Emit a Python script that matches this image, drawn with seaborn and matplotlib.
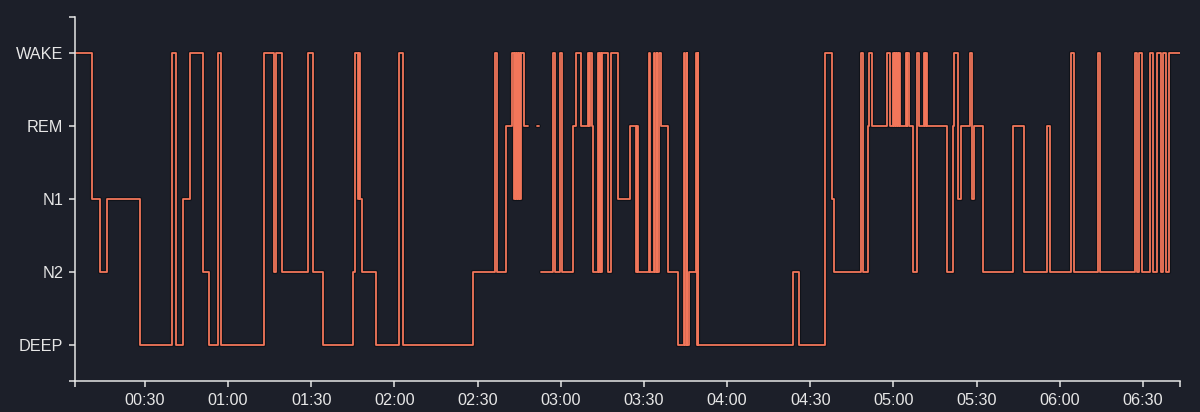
import numpy as np
import pandas as pd
import matplotlib
matplotlib.use("Agg")
import matplotlib.pyplot as plt
import matplotlib.patheffects as pe
import seaborn as sns

# ---------------- data ----------------
stage_order = ["DEEP", "N2", "N1", "REM", "WAKE"]

# stage change times (minutes after midnight); None marks missing data
change_min = [
    4.8, 10.8, 13.8, 16.2, 28.2, 39.9, 41.4, 43.8, 46.2, 51.0, 53.0, 56.3, 57.3,
    72.9, 76.5, 77.4, 79.3, 88.9, 90.7, 94.2, 105.2, 105.8, 107.0, 107.4, 107.7,
    108.2, 113.2, 121.7, 123.0, 148.2, 156.3, 157.1, 160.1, 162.5, 163.2, 163.6,
    164.0, 164.3, 164.7, 165.0, 165.3, 165.6, 166.7, 168.3, 171.4, 172.2, 173.0,
    177.1, 177.9, 179.7, 180.3, 184.5, 185.7, 187.5, 189.9, 190.3, 190.7, 191.2,
    191.7, 193.3, 193.7, 194.1, 194.5, 195.0, 196.9, 198.1, 200.7, 205.0,
    207.0, 207.5, 208.0, 211.8, 212.2, 213.7, 214.2,
    214.6, 214.9, 215.4, 216.1, 218.6, 222.4, 224.6, 225.0, 225.4, 225.6, 226.2,
    228.7, 229.1, 229.4, 229.7, 263.7, 266.0, 275.3, 277.7, 278.7, 288.3, 289.1,
    290.9, 291.3, 292.2, 297.6, 298.8, 300.0, 300.4, 300.7, 301.0, 301.4, 301.7,
    302.0, 302.4, 304.4, 304.8, 305.1, 305.6, 307.2, 308.4, 309.3, 311.1, 311.5,
    311.8, 312.2, 319.4, 321.4, 321.9, 323.4, 324.3, 327.6, 328.5, 329.2, 332.2,
    343.2, 347.1, 355.3, 356.5, 364.1, 365.1, 373.7, 374.5, 387.1, 388.0, 388.7,
    389.6, 392.6, 393.5, 395.0, 396.4, 397.4, 398.3, 399.5,
]
stage_at_change = [
    "WAKE", "N1", "N2", "N1", "DEEP", "WAKE", "DEEP", "N1", "WAKE", "N2", "DEEP", "WAKE", "DEEP",
    "WAKE", "N2", "WAKE", "N2", "WAKE", "N2", "DEEP", "N2", "WAKE", "N1", "WAKE", "N1",
    "N2", "DEEP", "WAKE", "DEEP", "N2", "WAKE", "N2", "REM", "WAKE", "N1", "WAKE",
    "N1", "WAKE", "N1", "WAKE", "N1", "WAKE", "REM", None, "REM", None, "N2",
    "WAKE", "N2", "WAKE", "N2", "REM", "WAKE", "REM", "WAKE", "REM", "WAKE", "REM",
    "N2", "WAKE", "N2", "WAKE", "N2", "WAKE", "N2", "WAKE", "N1", "REM",
    "N2", "REM", "N2", "WAKE", "N2", "WAKE", "N2",
    "WAKE", "N2", "WAKE", "REM", "N2", "DEEP", "WAKE", "DEEP", "WAKE", "DEEP", "N2",
    "WAKE", "DEEP", "WAKE", "DEEP", "N2", "DEEP", "WAKE", "N1", "N2", "WAKE", "N2",
    "REM", "WAKE", "REM", "WAKE", "REM", "WAKE", "REM", "WAKE", "REM", "WAKE", "REM",
    "WAKE", "REM", "WAKE", "REM", "WAKE", "REM", "N2", "WAKE", "REM", "WAKE", "REM",
    "WAKE", "REM", "N2", "REM", "WAKE", "N1", "REM", "WAKE", "N1", "REM", "N2",
    "REM", "N2", "REM", "N2", "WAKE", "N2", "WAKE", "N2", "WAKE", "N2", "WAKE",
    "N2", "WAKE", "N2", "WAKE", "N2", "WAKE", "N2", "WAKE",
]
end_min = 403.4

tick_min = [30, 60, 90, 120, 150, 180, 210, 240, 270, 300, 330, 360, 390]
tick_labels = ["00:30", "01:00", "01:30", "02:00", "02:30", "03:00", "03:30",
               "04:00", "04:30", "05:00", "05:30", "06:00", "06:30"]

# ---------------- build step table ----------------
level = {s: i for i, s in enumerate(stage_order)}
rows = []
seg = 0
n = len(change_min)
for i in range(n):
    t, s = change_min[i], stage_at_change[i]
    if s is None:
        seg += 1
        continue
    rows.append((t, level[s], seg))
    nxt = stage_at_change[i + 1] if i + 1 < n else None
    if nxt is None:
        t_next = change_min[i + 1] if i + 1 < n else end_min
        rows.append((t_next, level[s], seg))
df = pd.DataFrame(rows, columns=["time", "level", "seg"])

# ---------------- style ----------------
bg = "#1c1f29"
fg = "#e6e6e6"
line_c = "#f2765a"
sns.set_theme(style="ticks", rc={
    "axes.facecolor": bg, "figure.facecolor": bg,
    "axes.edgecolor": fg, "xtick.color": fg, "ytick.color": fg,
    "text.color": fg, "axes.labelcolor": fg,
})
plt.rcParams["font.family"] = ["Liberation Sans", "DejaVu Sans"]

fig = plt.figure(figsize=(12, 4.12), dpi=100)
ax = fig.add_axes([75 / 1200, 1 - 381 / 412, (1180 - 75) / 1200, (381 - 17) / 412])

sns.lineplot(data=df, x="time", y="level", units="seg", estimator=None,
             drawstyle="steps-post", color=line_c, linewidth=1.3, ax=ax,
             path_effects=[pe.Stroke(linewidth=3.0, foreground="#10131a"), pe.Normal()])

ax.set_xlim(change_min[0], end_min)
ax.set_ylim(-0.5, len(stage_order) - 0.5)
ax.set_xticks(tick_min)
ax.set_xticklabels(tick_labels)
ax.set_yticks(range(len(stage_order)))
ax.set_yticklabels(stage_order)
ax.set_xticks([change_min[0], end_min], minor=True)
ax.set_yticks([-0.5, len(stage_order) - 0.5], minor=True)
ax.set_xlabel("")
ax.set_ylabel("")

for side in ["top", "right"]:
    ax.spines[side].set_visible(False)
for side in ["left", "bottom"]:
    ax.spines[side].set_linewidth(1.1)
    ax.spines[side].set_color(fg)
ax.tick_params(which="both", length=4.3, width=1.1, color=fg, direction="out")
ax.tick_params(axis="y", which="major", labelsize=11.7, pad=4.2, labelcolor=fg)
ax.tick_params(axis="x", which="major", labelsize=11.7, pad=4, labelcolor=fg)
ax.grid(False)

fig.savefig("out.png", dpi=100, facecolor=bg)
